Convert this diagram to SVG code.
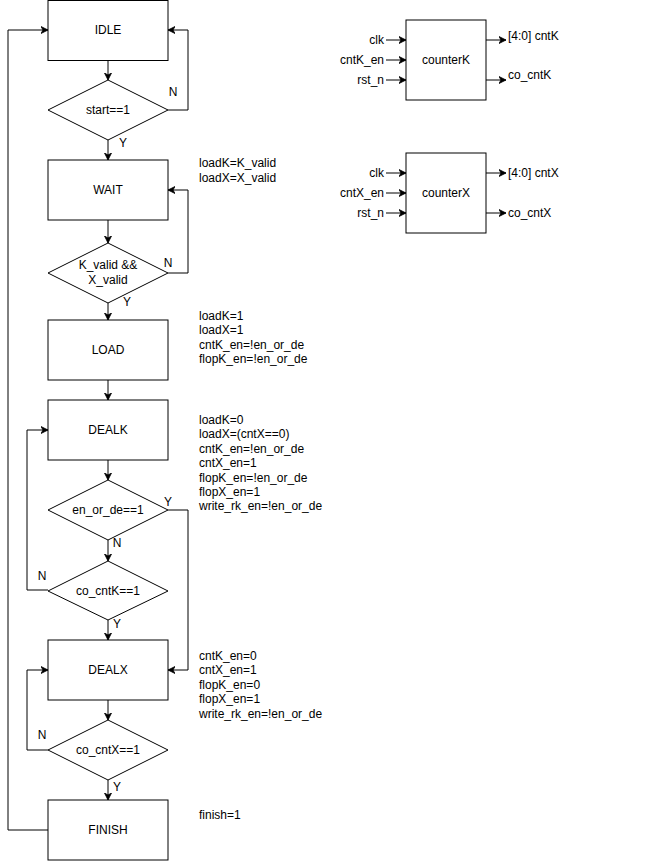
<svg xmlns="http://www.w3.org/2000/svg" width="657" height="861" viewBox="0 0 657 861">
<defs>
<marker id="arr" markerWidth="8" markerHeight="8" viewBox="0 0 8 8" refX="7" refY="4" orient="auto" markerUnits="userSpaceOnUse">
<path d="M0,0.5 L7,4 L0,7.5 L2,4 Z" fill="#000" stroke="#000" stroke-width="0.8"/>
</marker>
</defs>
<style>
.box{fill:#fff;stroke:#000;stroke-width:1}
.c{fill:none;stroke:#000;stroke-width:1;marker-end:url(#arr)}
.t{font-family:"Liberation Sans",Arial,sans-serif;font-size:12px;fill:#000}
.m{text-anchor:middle;dominant-baseline:central}
.r{text-anchor:end;dominant-baseline:central}
.l{dominant-baseline:central}
</style>
<rect width="657" height="861" fill="#fff"/>
<g id="connectors">
<line class="c" x1="108" y1="60" x2="108" y2="80"/>
<line class="c" x1="108" y1="140" x2="108" y2="160"/>
<polyline class="c" points="168,110 188,110 188,30 168,30"/>
<line class="c" x1="108" y1="220" x2="108" y2="243"/>
<polyline class="c" points="168,273 188,273 188,190 168,190"/>
<line class="c" x1="108" y1="303" x2="108" y2="320"/>
<line class="c" x1="108" y1="380" x2="108" y2="400"/>
<line class="c" x1="108" y1="460" x2="108" y2="480"/>
<line class="c" x1="108" y1="540" x2="108" y2="561"/>
<polyline class="c" points="168,510 188,510 188,670 168,670"/>
<polyline class="c" points="48,590 27,590 27,430 48,430"/>
<line class="c" x1="108" y1="620" x2="108" y2="640"/>
<line class="c" x1="108" y1="700" x2="108" y2="720"/>
<polyline class="c" points="48,750 27,750 27,670 48,670"/>
<line class="c" x1="108" y1="780" x2="108" y2="800"/>
<polyline class="c" points="48,830 8,830 8,30 48,30"/>
<line class="c" x1="386" y1="40" x2="406" y2="40"/>
<line class="c" x1="386" y1="60" x2="406" y2="60"/>
<line class="c" x1="386" y1="80" x2="406" y2="80"/>
<line class="c" x1="486" y1="40" x2="506" y2="40"/>
<line class="c" x1="486" y1="80" x2="506" y2="80"/>
<line class="c" x1="386" y1="173" x2="406" y2="173"/>
<line class="c" x1="386" y1="193" x2="406" y2="193"/>
<line class="c" x1="386" y1="213" x2="406" y2="213"/>
<line class="c" x1="486" y1="173" x2="506" y2="173"/>
<line class="c" x1="486" y1="213" x2="506" y2="213"/>
<text class="t m" x="173" y="92">N</text>
<text class="t m" x="123" y="143">Y</text>
<text class="t m" x="168" y="263">N</text>
<text class="t m" x="127" y="302">Y</text>
<text class="t m" x="168" y="502">Y</text>
<text class="t m" x="117" y="543">N</text>
<text class="t m" x="42" y="576">N</text>
<text class="t m" x="117" y="624">Y</text>
<text class="t m" x="42" y="735">N</text>
<text class="t m" x="117" y="787">Y</text>
</g>
<g id="idle"><rect class="box" x="48" y="0.5" width="120" height="60"/><text class="t m" x="108" y="30">IDLE</text></g>
<g id="start"><polygon class="box" points="108,80 168,110 108,140 48,110"/><text class="t m" x="108" y="110">start==1</text></g>
<g id="wait"><rect class="box" x="48" y="160" width="120" height="60"/><text class="t m" x="108" y="190">WAIT</text></g>
<g id="valid"><polygon class="box" points="108,243 168,273 108,303 48,273"/><text class="t m" x="108" y="265">K_valid &amp;&amp;</text><text class="t m" x="108" y="280">X_valid</text></g>
<g id="load"><rect class="box" x="48" y="320" width="120" height="60"/><text class="t m" x="108" y="350">LOAD</text></g>
<g id="dealk"><rect class="box" x="48" y="400" width="120" height="60"/><text class="t m" x="108" y="430">DEALK</text></g>
<g id="enorde"><polygon class="box" points="108,480 168,510 108,540 48,510"/><text class="t m" x="108" y="510">en_or_de==1</text></g>
<g id="cocntk"><polygon class="box" points="108,561 168,591 108,620 48,591"/><text class="t m" x="108" y="591">co_cntK==1</text></g>
<g id="dealx"><rect class="box" x="48" y="640" width="120" height="60"/><text class="t m" x="108" y="670">DEALX</text></g>
<g id="cocntx"><polygon class="box" points="108,720 168,750 108,780 48,750"/><text class="t m" x="108" y="750">co_cntX==1</text></g>
<g id="finish"><rect class="box" x="48" y="800" width="120" height="60"/><text class="t m" x="108" y="830">FINISH</text></g>
<g id="counterK"><rect class="box" x="406" y="20" width="80" height="80"/><text class="t m" x="446" y="60">counterK</text>
<text class="t r" x="384" y="40">clk</text><text class="t r" x="384" y="60">cntK_en</text><text class="t r" x="384" y="80">rst_n</text>
<text class="t l" x="508" y="36">[4:0] cntK</text><text class="t l" x="508" y="75">co_cntK</text></g>
<g id="counterX"><rect class="box" x="406" y="153" width="80" height="80"/><text class="t m" x="446" y="193">counterX</text>
<text class="t r" x="384" y="173">clk</text><text class="t r" x="384" y="193">cntX_en</text><text class="t r" x="384" y="213">rst_n</text>
<text class="t l" x="508" y="173">[4:0] cntX</text><text class="t l" x="508" y="213">co_cntX</text></g>
<g id="notes">
<text class="t l" x="199" y="163">loadK=K_valid</text>
<text class="t l" x="199" y="178">loadX=X_valid</text>
<text class="t l" x="199" y="316">loadK=1</text>
<text class="t l" x="199" y="330">loadX=1</text>
<text class="t l" x="199" y="345">cntK_en=!en_or_de</text>
<text class="t l" x="199" y="359">flopK_en=!en_or_de</text>
<text class="t l" x="199" y="420">loadK=0</text>
<text class="t l" x="199" y="434">loadX=(cntX==0)</text>
<text class="t l" x="199" y="449">cntK_en=!en_or_de</text>
<text class="t l" x="199" y="463">cntX_en=1</text>
<text class="t l" x="199" y="478">flopK_en=!en_or_de</text>
<text class="t l" x="199" y="492">flopX_en=1</text>
<text class="t l" x="199" y="506">write_rk_en=!en_or_de</text>
<text class="t l" x="199" y="656">cntK_en=0</text>
<text class="t l" x="199" y="670">cntX_en=1</text>
<text class="t l" x="199" y="685">flopK_en=0</text>
<text class="t l" x="199" y="699">flopX_en=1</text>
<text class="t l" x="199" y="714">write_rk_en=!en_or_de</text>
<text class="t l" x="199" y="815">finish=1</text>
</g>
</svg>
